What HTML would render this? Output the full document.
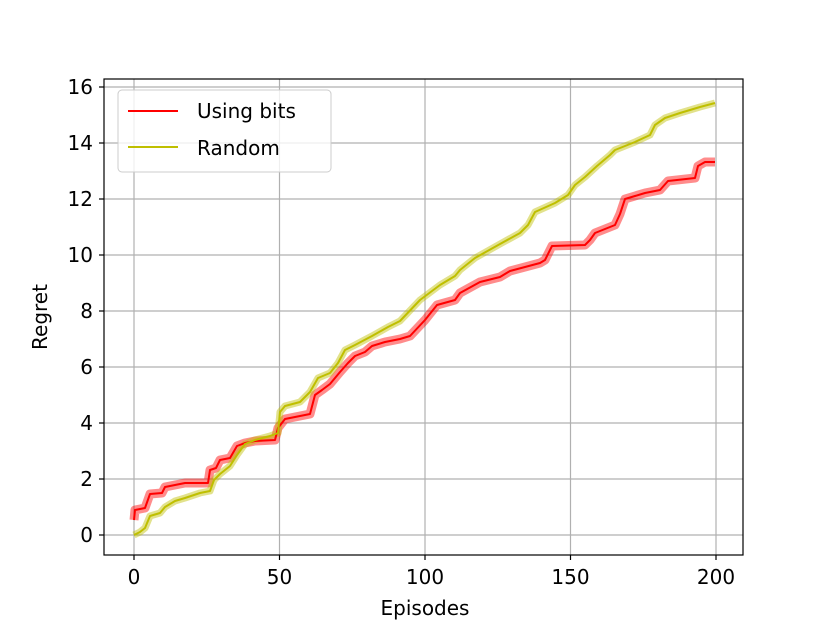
<!DOCTYPE html>
<html><head><style>body{margin:0;background:#fff}svg{display:block}text{font-family:"DejaVu Sans","Liberation Sans",sans-serif;fill:#000}</style></head><body>
<svg width="828" height="627" viewBox="0 0 828 627">
<g stroke="#b0b0b0" stroke-width="1.2">
<line x1="134" y1="79" x2="134" y2="555"/><line x1="279.5" y1="79" x2="279.5" y2="555"/><line x1="425" y1="79" x2="425" y2="555"/><line x1="570.5" y1="79" x2="570.5" y2="555"/><line x1="716" y1="79" x2="716" y2="555"/>
<line x1="104" y1="535" x2="743" y2="535"/><line x1="104" y1="479" x2="743" y2="479"/><line x1="104" y1="423" x2="743" y2="423"/><line x1="104" y1="367" x2="743" y2="367"/><line x1="104" y1="311" x2="743" y2="311"/><line x1="104" y1="255" x2="743" y2="255"/><line x1="104" y1="199" x2="743" y2="199"/><line x1="104" y1="143" x2="743" y2="143"/><line x1="104" y1="87" x2="743" y2="87"/>
</g>
<g fill="none" stroke-linejoin="round">
<polyline stroke="rgba(255,0,0,0.45)" stroke-width="9" points="134,520 135,510 145,508 150,494 162,493 165,487 175,485 185,483 208,483 210,470 216,468 220,460 230,458 237,446 245,443 255,441 275,440 278,428 285,419 300,416 310,414 315,395 322,390 330,384 340,372 348,363 355,356 365,352 372,346 385,342 400,339 410,336 425,320 437,305 455,300 460,293 480,282 500,277 510,271 540,263 545,260 552,246 585,245 590,240 595,233 600,231 615,225 620,214 625,199 635,196 645,193 660,190 668,181 695,178 698,166 705,162 715,162"/>
<polyline stroke="rgba(190,190,0,0.45)" stroke-width="7" points="134,535 140,532 145,528 150,516 160,513 165,507 175,501 185,498 200,493 210,491 214,480 220,474 230,466 237,455 245,444 255,440 270,436 278,433 280,412 285,406 300,402 310,392 318,378 330,373 338,363 345,350 355,345 372,336 388,327 400,321 420,300 440,285 455,276 460,270 475,258 500,244 520,233 528,225 535,212 555,203 568,195 575,185 585,177 597,166 610,155 615,150 635,142 650,135 655,125 665,118 680,113 700,107 715,103"/>
<polyline stroke="#ff0000" stroke-width="2" points="134,520 135,510 145,508 150,494 162,493 165,487 175,485 185,483 208,483 210,470 216,468 220,460 230,458 237,446 245,443 255,441 275,440 278,428 285,419 300,416 310,414 315,395 322,390 330,384 340,372 348,363 355,356 365,352 372,346 385,342 400,339 410,336 425,320 437,305 455,300 460,293 480,282 500,277 510,271 540,263 545,260 552,246 585,245 590,240 595,233 600,231 615,225 620,214 625,199 635,196 645,193 660,190 668,181 695,178 698,166 705,162 715,162"/>
<polyline stroke="#bfbf00" stroke-width="2" points="134,535 140,532 145,528 150,516 160,513 165,507 175,501 185,498 200,493 210,491 214,480 220,474 230,466 237,455 245,444 255,440 270,436 278,433 280,412 285,406 300,402 310,392 318,378 330,373 338,363 345,350 355,345 372,336 388,327 400,321 420,300 440,285 455,276 460,270 475,258 500,244 520,233 528,225 535,212 555,203 568,195 575,185 585,177 597,166 610,155 615,150 635,142 650,135 655,125 665,118 680,113 700,107 715,103"/>
</g>
<rect x="104" y="79" width="639" height="476" fill="none" stroke="#000" stroke-width="1.2"/>
<g stroke="#000" stroke-width="1.2">
<line x1="134" y1="555" x2="134" y2="560"/><line x1="279.5" y1="555" x2="279.5" y2="560"/><line x1="425" y1="555" x2="425" y2="560"/><line x1="570.5" y1="555" x2="570.5" y2="560"/><line x1="716" y1="555" x2="716" y2="560"/>
<line x1="99" y1="535" x2="104" y2="535"/><line x1="99" y1="479" x2="104" y2="479"/><line x1="99" y1="423" x2="104" y2="423"/><line x1="99" y1="367" x2="104" y2="367"/><line x1="99" y1="311" x2="104" y2="311"/><line x1="99" y1="255" x2="104" y2="255"/><line x1="99" y1="199" x2="104" y2="199"/><line x1="99" y1="143" x2="104" y2="143"/><line x1="99" y1="87" x2="104" y2="87"/>
</g>
<g font-size="20" text-anchor="middle">
<text x="134" y="584">0</text><text x="279.5" y="584">50</text><text x="425" y="584">100</text><text x="570.5" y="584">150</text><text x="716" y="584">200</text>
<text x="425" y="615">Episodes</text>
</g>
<g font-size="20" text-anchor="end">
<text x="93" y="542">0</text><text x="93" y="486">2</text><text x="93" y="430">4</text><text x="93" y="374">6</text><text x="93" y="318">8</text><text x="93" y="262">10</text><text x="93" y="206">12</text><text x="93" y="150">14</text><text x="93" y="94">16</text>
</g>
<text font-size="20" text-anchor="middle" transform="translate(47,317) rotate(-90)">Regret</text>
<rect x="118" y="90" width="213" height="82" rx="4" fill="#fff" fill-opacity="0.8" stroke="#ccc"/>
<line x1="128" y1="111" x2="178" y2="111" stroke="#ff0000" stroke-width="2"/>
<line x1="128" y1="147" x2="178" y2="147" stroke="#bfbf00" stroke-width="2"/>
<text x="197" y="118" font-size="20">Using bits</text>
<text x="197" y="155" font-size="20">Random</text>
</svg>
</body></html>
